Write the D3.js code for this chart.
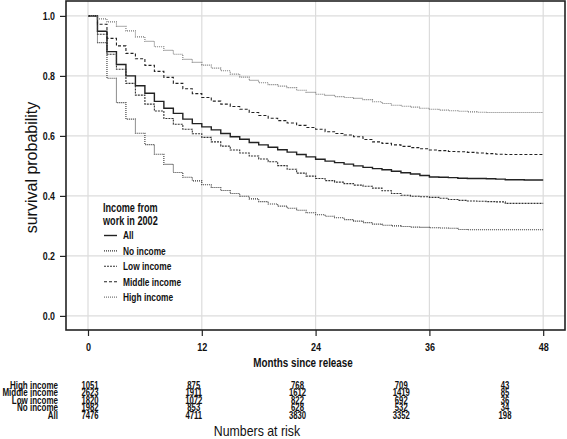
<!DOCTYPE html>
<html>
<head>
<meta charset="utf-8">
<script src="https://cdn.jsdelivr.net/npm/d3@7"></script>
<style>
  body { margin: 0; background: #fff; }
  svg { display: block; }
  text { font-family: "Liberation Sans", Arial, sans-serif; }
</style>
</head>
<body>
<svg id="chart" width="567" height="439"></svg>
<script>
// months 0..48, survival (one value per month)
const months = d3.range(0, 49);

const allSurv = [1.000, .949, .881, .838, .800, .767, .742, .715, .692, .675, .656, .641, .630,
  .620, .608, .597, .589, .578, .570, .562, .554, .546, .538, .530, .522,
  .516, .511, .506, .500, .495, .491, .487, .482, .477, .473, .468, .463,
  .462, .461, .459, .458, .458, .457, .456, .454, .454, .453, .453, .453];

const noSurv = [1.000, .911, .792, .711, .656, .609, .571, .539, .505, .478, .462, .450, .437,
  .428, .418, .408, .399, .390, .381, .373, .366, .359, .352, .344, .337,
  .332, .327, .321, .316, .311, .306, .302, .300, .298, .296, .295, .294,
  .293, .292, .288, .287, .287, .287, .287, .287, .287, .287, .287, .287];

const lowSurv = [1.000, .939, .872, .822, .775, .736, .706, .683, .658, .639, .622, .607, .595,
  .580, .566, .553, .543, .533, .523, .514, .501, .489, .476, .466, .458,
  .451, .446, .441, .436, .432, .426, .417, .408, .402, .399, .397, .395,
  .392, .388, .385, .383, .382, .381, .380, .375, .375, .375, .375, .375];

const midSurv = [1.000, .972, .925, .900, .875, .857, .835, .815, .795, .775, .757, .741, .728,
  .716, .706, .698, .689, .678, .668, .659, .651, .643, .635, .628, .622,
  .614, .608, .603, .597, .588, .580, .575, .570, .565, .561, .557, .553,
  .551, .548, .547, .545, .543, .541, .539, .538, .538, .538, .538, .538];

const highSurv = [1.000, .990, .980, .965, .950, .930, .915, .897, .885, .872, .855, .845, .836,
  .826, .817, .806, .796, .785, .777, .771, .766, .761, .752, .745, .739,
  .735, .731, .728, .725, .721, .714, .708, .702, .699, .696, .692, .689,
  .686, .684, .682, .680, .679, .678, .678, .678, .678, .678, .678, .678];

const xTicks = [0, 12, 24, 36, 48];
const yTicks = [0, 0.2, 0.4, 0.6, 0.8, 1.0];

const legendTitle = ["Income from", "work in 2002"];
const groupNames = ["All", "No income", "Low income", "Middle income", "High income"];

// numbers at risk
const riskTimes = [0, 12, 24, 36, 48];
const riskLabels = ["High income", "Middle income", "Low income", "No income", "All"];
const riskHigh = [1051, 875, 768, 709, 43];
const riskMiddle = [2623, 1911, 1612, 1419, 85];
const riskLow = [1820, 1072, 822, 692, 36];
const riskNo = [1982, 853, 628, 532, 34];
const riskAll = [7476, 4711, 3830, 3352, 198];

const svg = d3.select("#chart");

const plotL = 66, plotR = 565, plotT = 1, plotB = 330;

const x = d3.scaleLinear().domain([-2.32, 50.3]).range([plotL, plotR]);
const y = d3.scaleLinear().domain([-0.047, 1.053]).range([plotB, 0]);

// the original uses a condensed face; squeeze glyphs horizontally
function squeeze(sel, k) {
  sel.each(function () {
    const w = this.getComputedTextLength();
    d3.select(this).attr("textLength", w * k).attr("lengthAdjust", "spacingAndGlyphs");
  });
}

// grid
svg.append("g").selectAll("line")
  .data(xTicks).enter().append("line")
  .attr("x1", d => x(d)).attr("x2", d => x(d))
  .attr("y1", plotT).attr("y2", plotB)
  .attr("stroke", "#dcdcdc").attr("stroke-width", 1.2);
svg.append("g").selectAll("line")
  .data(yTicks).enter().append("line")
  .attr("x1", plotL).attr("x2", plotR)
  .attr("y1", d => y(d)).attr("y2", d => y(d))
  .attr("stroke", "#dcdcdc").attr("stroke-width", 1.2);

// axes
const xAxis = svg.append("g")
  .attr("transform", `translate(0,${plotB})`)
  .call(d3.axisBottom(x).tickValues(xTicks).tickSize(6).tickPadding(4).tickFormat(d3.format("d")));
const yAxis = svg.append("g")
  .attr("transform", `translate(${plotL},0)`)
  .call(d3.axisLeft(y).tickValues(yTicks).tickSize(6).tickPadding(5).tickFormat(d3.format(".1f")));

[xAxis, yAxis].forEach(a => {
  a.select(".domain").remove();
  a.selectAll(".tick line").attr("stroke", "#222").attr("stroke-width", 1.2);
  a.selectAll(".tick text")
    .attr("font-family", "Liberation Sans, Arial, sans-serif")
    .attr("font-size", 11)
    .attr("font-weight", "bold")
    .attr("fill", "#111");
});
xAxis.selectAll(".tick text").attr("dy", "1em");
squeeze(xAxis.selectAll(".tick text"), 0.82);
squeeze(yAxis.selectAll(".tick text"), 0.8);

// frame
svg.append("rect")
  .attr("x", plotL).attr("y", plotT)
  .attr("width", plotR - plotL).attr("height", plotB - plotT)
  .attr("fill", "none").attr("stroke", "#222").attr("stroke-width", 1.6);

// curves
const series = [
  { name: "All", values: allSurv, color: "#222", dash: null, width: 1.4 },
  { name: "No income", values: noSurv, color: "#333", dash: "1,1", width: 1.1 },
  { name: "Low income", values: lowSurv, color: "#333", dash: "2,1", width: 1.1 },
  { name: "Middle income", values: midSurv, color: "#222", dash: "3,2", width: 1.1 },
  { name: "High income", values: highSurv, color: "#777", dash: "1,1", width: 1.1 }
];

const line = d3.line()
  .x(d => x(d[0]))
  .y(d => y(d[1]))
  .curve(d3.curveStepAfter);

svg.append("g").selectAll("path")
  .data(series).enter().append("path")
  .attr("d", s => line(months.map((m, i) => [m, s.values[i]])))
  .attr("fill", "none")
  .attr("stroke", s => s.color)
  .attr("stroke-width", s => s.width)
  .attr("stroke-dasharray", s => s.dash);

// legend
const leg = svg.append("g");
const legTitle = leg.selectAll("text")
  .data(legendTitle).enter().append("text")
  .attr("x", 103).attr("y", (d, i) => 212 + i * 12.5)
  .attr("font-size", 12).attr("font-weight", "bold").attr("fill", "#111")
  .text(d => d);
squeeze(legTitle, 0.76);

const legItems = leg.selectAll("g")
  .data(series).enter().append("g")
  .attr("transform", (d, i) => `translate(0,${235.5 + i * 15.4})`);
legItems.append("line")
  .attr("x1", 104).attr("x2", 117)
  .attr("stroke", d => d.color)
  .attr("stroke-width", d => d.width)
  .attr("stroke-dasharray", d => d.dash);
const legText = legItems.append("text")
  .attr("x", 123).attr("dy", "0.35em")
  .attr("font-size", 11).attr("font-weight", "bold").attr("fill", "#111")
  .text((d, i) => groupNames[i]);
squeeze(legText, 0.76);

// axis titles
svg.append("text")
  .attr("transform", `translate(37,${(plotT + plotB) / 2 + 2}) rotate(-90)`)
  .attr("text-anchor", "middle")
  .attr("font-size", 16).attr("fill", "#111")
  .text("survival probability");

const xTitle = svg.append("text")
  .attr("x", 303).attr("y", 367)
  .attr("text-anchor", "middle")
  .attr("font-size", 12).attr("font-weight", "bold").attr("fill", "#111")
  .text("Months since release");
squeeze(xTitle, 0.82);

// numbers at risk table
const riskRows = [riskHigh, riskMiddle, riskLow, riskNo, riskAll];
const xr = d3.scaleLinear().domain([0, 48]).range([90, 505]);
const rowY = d3.scalePoint().domain(riskLabels).range([388.5, 419]);

const table = svg.append("g")
  .attr("font-size", 10).attr("font-weight", "bold").attr("fill", "#111");
const rowLab = table.selectAll("text")
  .data(riskLabels).enter().append("text")
  .attr("x", 58).attr("y", d => rowY(d))
  .attr("text-anchor", "end")
  .text(d => d);
squeeze(rowLab, 0.8);
riskRows.forEach((row, r) => {
  const cells = table.append("g").selectAll("text")
    .data(row).enter().append("text")
    .attr("x", (d, i) => xr(riskTimes[i]))
    .attr("y", rowY(riskLabels[r]))
    .attr("text-anchor", "middle")
    .text(d => d);
  squeeze(cells, 0.77);
});

const riskTitle = svg.append("text")
  .attr("x", 257).attr("y", 436)
  .attr("text-anchor", "middle")
  .attr("font-size", 14.5).attr("fill", "#111")
  .text("Numbers at risk");
squeeze(riskTitle, 0.85);
</script>
</body>
</html>
